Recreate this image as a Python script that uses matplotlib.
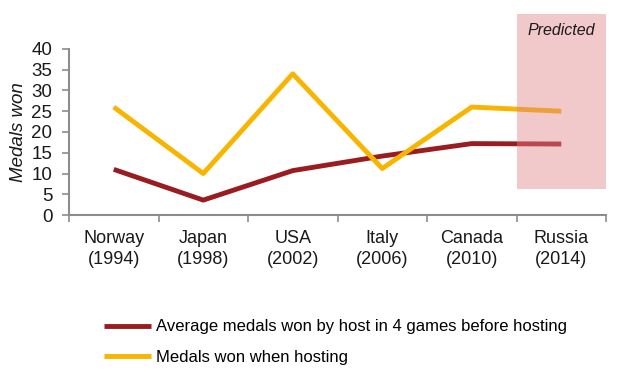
import matplotlib.pyplot as plt
from matplotlib.patches import Rectangle

plt.rcParams['font.family'] = ['Liberation Sans', 'DejaVu Sans']

hosts = ["Norway\n(1994)", "Japan\n(1998)", "USA\n(2002)", "Italy\n(2006)",
         "Canada\n(2010)", "Russia\n(2014)"]
avg_before = [11, 3.6, 10.7, 14.2, 17.2, 17.1]
when_hosting = [26, 10, 34, 11.2, 26, 25]
yticks = [0, 5, 10, 15, 20, 25, 30, 35, 40]

red = "#9b1c20"
yellow = "#f8b500"
grey = "#8c8c8c"

fig = plt.figure(figsize=(6.19, 3.76), dpi=100)
ax = fig.add_axes([0.1115, 0.428, 0.8675, 0.442])

x = list(range(len(hosts)))
ax.plot(x, avg_before, color=red, lw=3.5, solid_capstyle="butt",
        label="Average medals won by host in 4 games before hosting")
ax.plot(x, when_hosting, color=yellow, lw=3.5, solid_capstyle="butt",
        label="Medals won when hosting")

# predicted zone (drawn over the lines, semi transparent)
rect = Rectangle((4.5, 6.3), 1.0, 42.1, facecolor="#e08489", alpha=0.44,
                 edgecolor="none", zorder=3, clip_on=False)
ax.add_patch(rect)
ax.text(5.0, 44.5, "Predicted", style="italic", ha="center", va="center",
        fontsize=11.5, color="#1a1a1a", zorder=4)

ax.set_xlim(-0.5, 5.5)
ax.set_ylim(0, 40)
ax.set_yticks(yticks)
ax.set_xticks([i - 0.5 for i in range(len(hosts) + 1)], minor=False)
ax.set_xticklabels([])
ax.set_xticks(x, minor=True)
ax.set_xticklabels(hosts, minor=True, fontsize=13, color="#1a1a1a",
                   linespacing=1.3)
ax.tick_params(axis="x", which="minor", length=0, pad=11)
ax.tick_params(axis="x", which="major", length=5, color=grey, width=1.2)
ax.tick_params(axis="y", length=5, color=grey, width=1.2, labelsize=13.5,
               labelcolor="#1a1a1a", pad=7)

for s in ["top", "right"]:
    ax.spines[s].set_visible(False)
for s in ["left", "bottom"]:
    ax.spines[s].set_color(grey)
    ax.spines[s].set_linewidth(1.5)

ax.set_ylabel("Medals won", style="italic", fontsize=13.5, color="#1a1a1a",
              labelpad=3)

fig.legend(loc="upper left", bbox_to_anchor=(0.158, 0.168), frameon=False,
           fontsize=12, handlelength=2.8, handletextpad=0.3,
           labelspacing=0.95, borderaxespad=0)

fig.savefig("out.png", dpi=100)
